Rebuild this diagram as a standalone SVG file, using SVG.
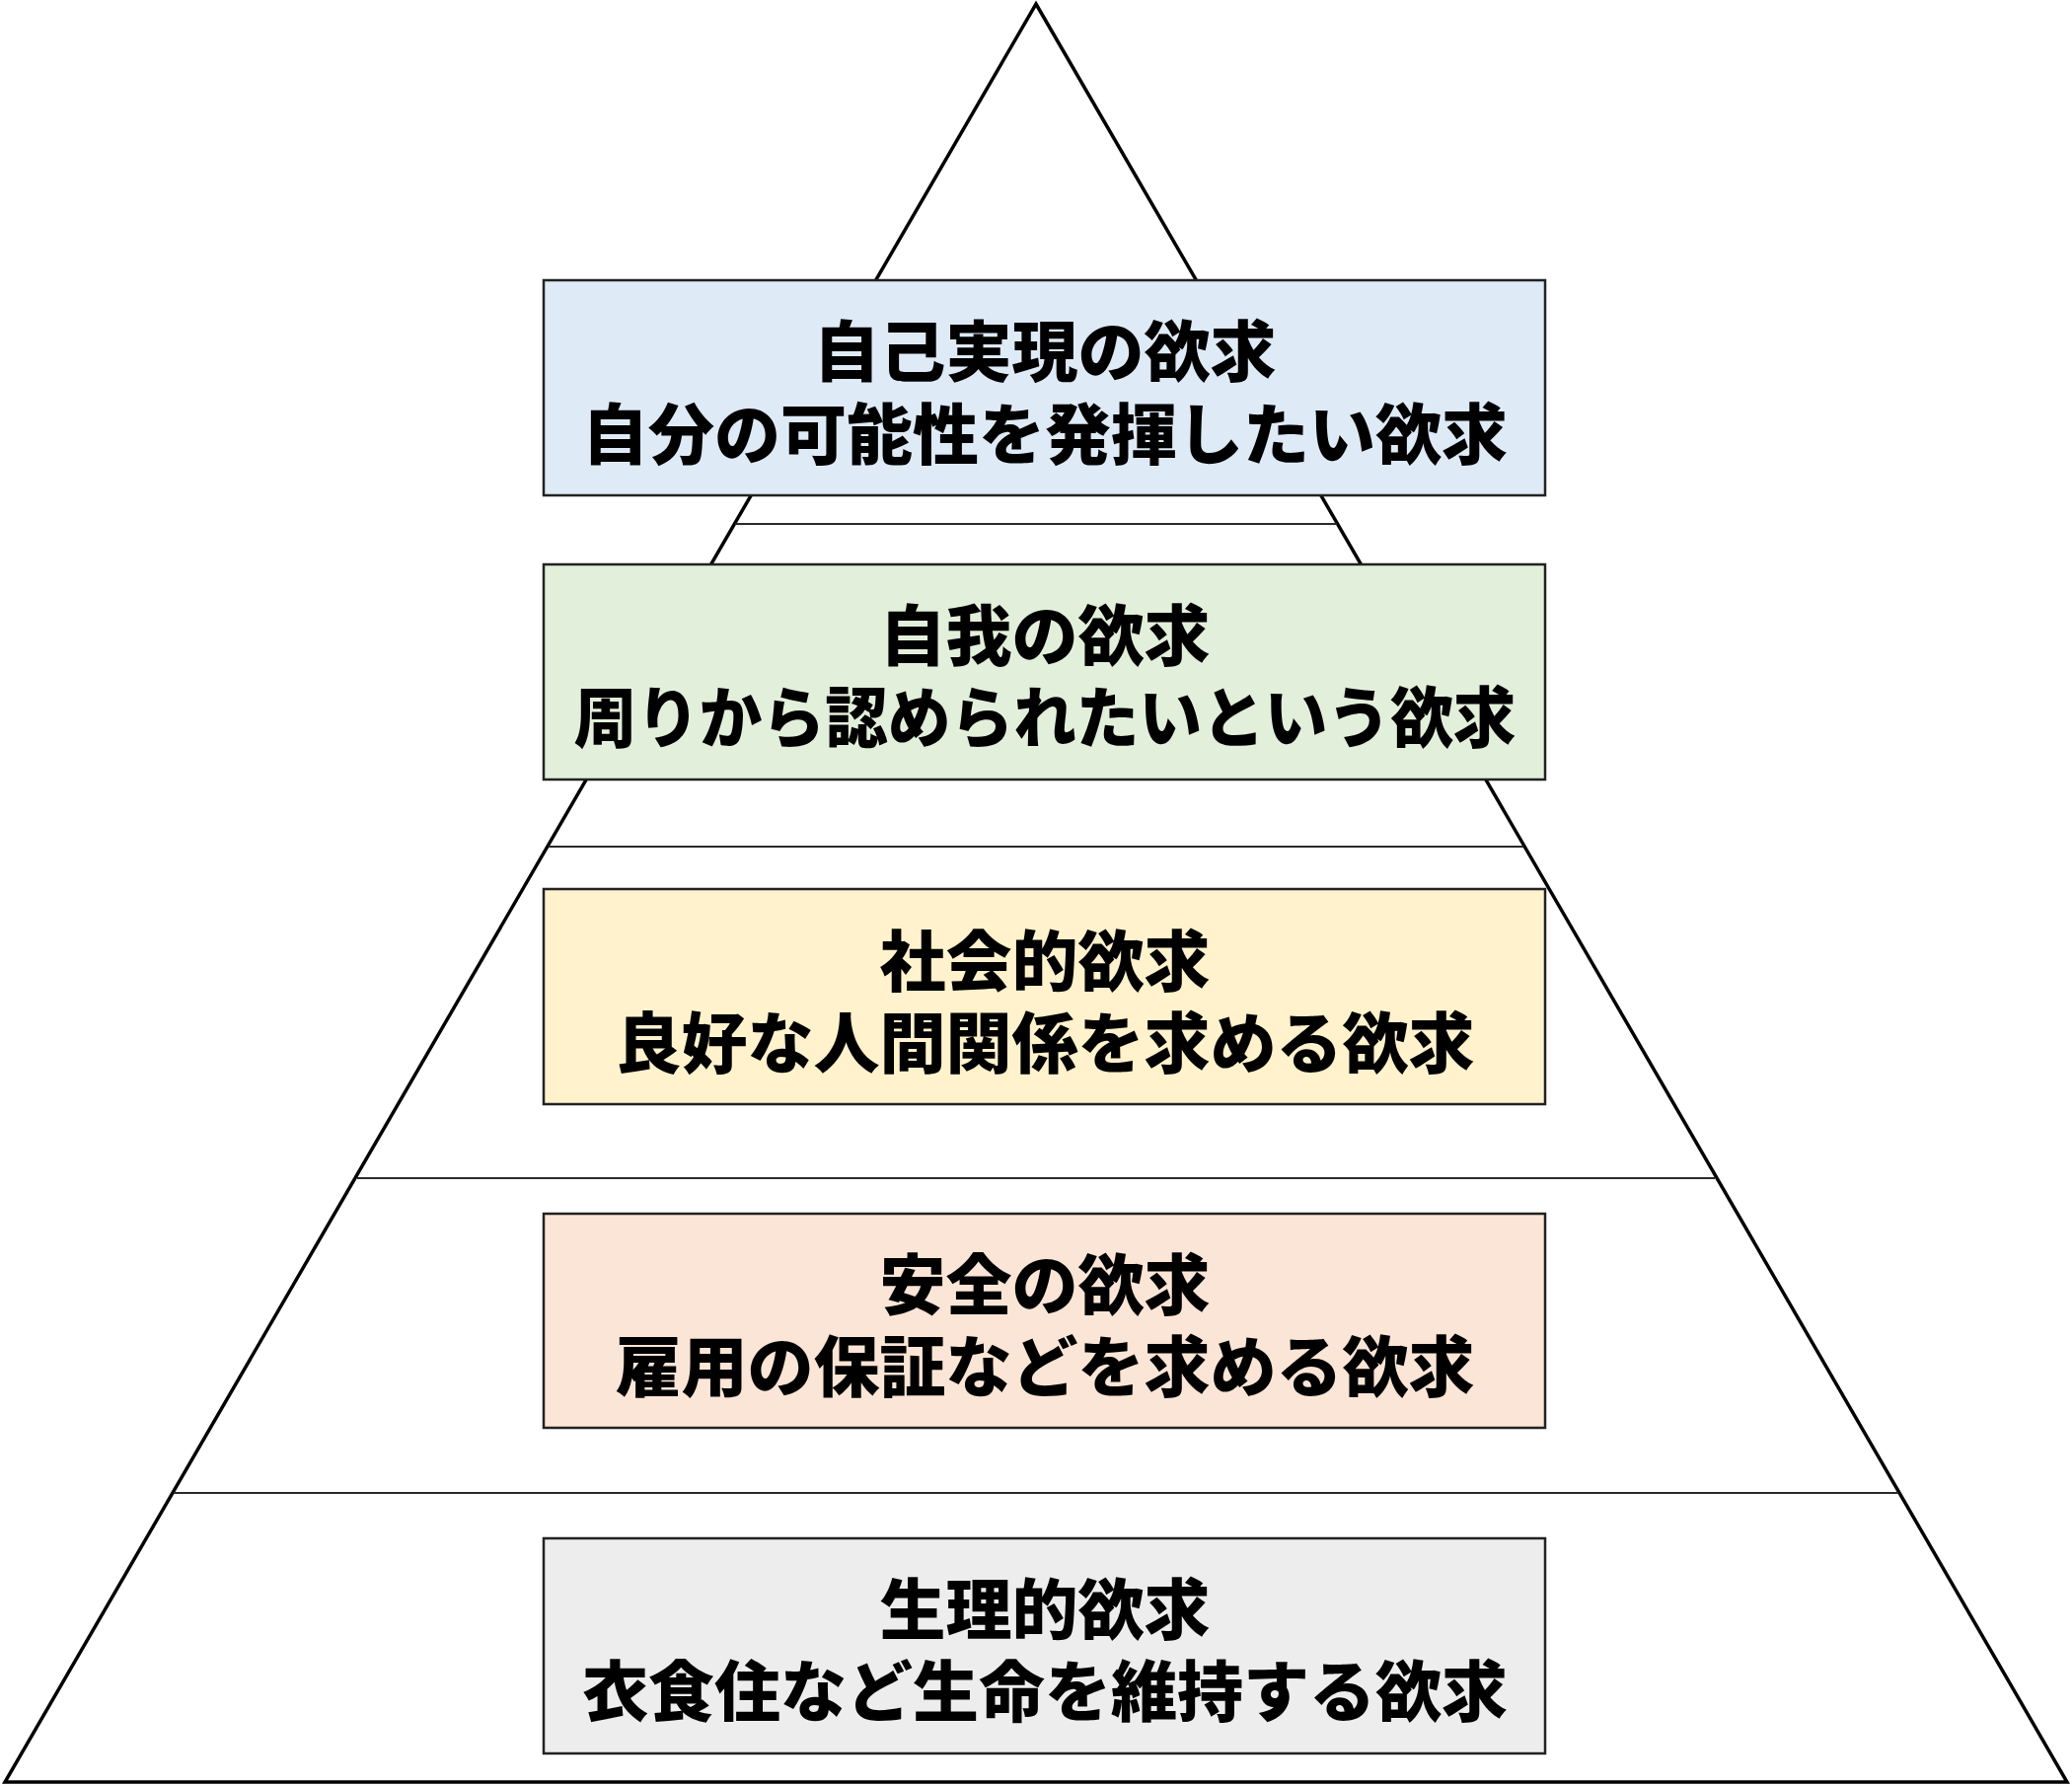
<svg xmlns="http://www.w3.org/2000/svg" width="2100" height="1810" viewBox="0 0 2100 1810">
<style>
.tri{fill:#fff;stroke:#000;stroke-width:3.5;stroke-linejoin:miter}
.div{stroke:#2a2a2a;stroke-width:2;fill:none}
.box{stroke:#222;stroke-width:2.5}
.t{font-family:"Noto Sans CJK JP","Noto Sans CJK SC",sans-serif;font-weight:900;font-size:67px;fill:#000;text-anchor:middle}
</style>
<rect width="2100" height="1810" fill="#fff"/>
<g id="pyramid">
<polygon class="tri" points="1050,4 2095,1806 5,1806"/>
</g>
<g id="connectors">
<line class="div" x1="745" y1="531" x2="1355" y2="531"/>
<line class="div" x1="556" y1="858" x2="1544" y2="858"/>
<line class="div" x1="362" y1="1194" x2="1738" y2="1194"/>
<line class="div" x1="176" y1="1513" x2="1924" y2="1513"/>
</g>
<g id="level1">
<rect class="box" x="551" y="284" width="1015" height="218" fill="#DEEAF6"/>
<text class="t" x="1059" y="381">自己実現の欲求</text>
<text class="t" x="1059" y="465">自分の可能性を発揮したい欲求</text>
</g>
<g id="level2">
<rect class="box" x="551" y="572" width="1015" height="218" fill="#E2EFDA"/>
<text class="t" x="1059" y="669">自我の欲求</text>
<text class="t" x="1059" y="752" textLength="955" lengthAdjust="spacingAndGlyphs">周りから認められたいという欲求</text>
</g>
<g id="level3">
<rect class="box" x="551" y="901" width="1015" height="218" fill="#FFF2CC"/>
<text class="t" x="1059" y="999">社会的欲求</text>
<text class="t" x="1059" y="1082">良好な人間関係を求める欲求</text>
</g>
<g id="level4">
<rect class="box" x="551" y="1230" width="1015" height="217" fill="#FBE5D6"/>
<text class="t" x="1059" y="1327">安全の欲求</text>
<text class="t" x="1059" y="1410">雇用の保証などを求める欲求</text>
</g>
<g id="level5">
<rect class="box" x="551" y="1559" width="1015" height="218" fill="#EDEDED"/>
<text class="t" x="1059" y="1656">生理的欲求</text>
<text class="t" x="1059" y="1739">衣食住など生命を維持する欲求</text>
</g>
</svg>
